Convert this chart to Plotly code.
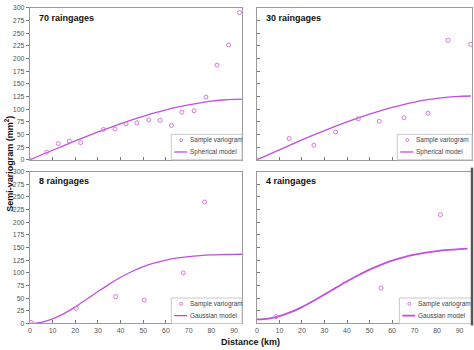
import plotly.graph_objects as go

# ---- data ----
titles = ["70 raingages", "30 raingages", "8 raingages", "4 raingages"]
model_names = ["Spherical model", "Spherical model", "Gaussian model", "Gaussian model"]
sample_name = "Sample variogram"

# sample variograms
d70 = [0, 7.4, 12.5, 17.4, 22.4, 32.4, 37.5, 42.4, 47.2, 52.4, 57.4, 62.4, 67, 72.4, 77.6, 82.5, 87.6, 92.4]
g70 = [0, 15, 32, 37, 34, 60, 61, 71, 73, 79, 78, 68, 94, 97, 124, 187, 227, 291]
d30 = [0, 14.3, 25.3, 34.9, 45, 54.3, 65.3, 76, 84.9, 94.9]
g30 = [0, 42, 29, 55, 81, 76, 83, 92, 236, 228]
d8 = [0.5, 20.4, 37.8, 50.4, 67.6, 77]
g8 = [2, 30, 53, 46, 100, 240]
d4 = [8.4, 55.1, 81.5]
g4 = [13.5, 70, 215]

# fitted model curves
mh = [0, 5, 10, 15, 20, 25, 30, 35, 40, 45, 50, 55, 60, 65, 70, 75, 80, 85, 90, 93.5]
m70 = [0, 9.5, 18.9, 28.2, 37.3, 46.3, 55.0, 63.3, 71.3, 78.9, 86.0, 92.6, 98.6, 103.9, 108.6, 112.6, 115.8, 118.1, 119.5, 120]
mh30 = [0, 5, 10, 15, 20, 25, 30, 35, 40, 45, 50, 55, 60, 65, 70, 75, 80, 85, 90, 95]
m30 = [0, 9.9, 19.8, 29.6, 39.2, 48.6, 57.7, 66.5, 74.9, 82.8, 90.3, 97.2, 103.5, 109.1, 114.1, 118.2, 121.5, 124.0, 125.5, 126]
m8 = [0, 2.3, 9.1, 19.5, 32.8, 47.7, 63.0, 77.8, 91.2, 102.7, 112.3, 119.7, 125.3, 129.4, 132.2, 134.1, 135.3, 136.0, 136.5, 136.7]
mh4 = [0, 5, 10, 15, 20, 25, 30, 35, 40, 45, 50, 55, 60, 65, 70, 75, 80, 85, 90, 93.5]
m4 = [8, 9.7, 14.5, 22.3, 32.4, 44.3, 57.1, 70.3, 83.3, 95.4, 106.4, 115.9, 124.0, 130.7, 135.9, 140.0, 143.1, 145.3, 146.9, 147.7]

y_ticks = list(range(0, 301, 25))
x_ticks = list(range(0, 91, 10))

W, H = 474, 350
LINE = "#c04fe0"
MARK = "#d777d7"
FONT = "Liberation Sans, Arial, sans-serif"
GRID = "#9a9a9a"

# panel pixel boxes: (left, right, top, bottom)
boxes = [(28, 241, 4, 159), (256, 472, 4, 159), (28, 241, 171, 326), (256, 472, 171, 326)]
xmax = [93.5, 95.5, 93.5, 95.5]
samples = [(d70, g70), (d30, g30), (d8, g8), (d4, g4)]
models = [(mh, m70), (mh30, m30), (mh, m8), (mh4, m4)]
# legend box left edge (px) per panel
leg_left = [170, 397, 170, 399]
line_w = [1.3, 1.3, 1.3, 1.8]


def px(x):
    return x / W


def py(y):
    return (H - y) / H


fig = go.Figure()
layout = dict(width=W, height=H, margin=dict(l=0, r=0, t=0, b=0),
              paper_bgcolor="white", plot_bgcolor="white",
              font=dict(family=FONT, size=7, color="#555"), showlegend=False)
annotations = []
shapes = []
for i in range(4):
    l, r, t, b = boxes[i]
    xa = "xaxis" if i == 0 else f"xaxis{i+1}"
    ya = "yaxis" if i == 0 else f"yaxis{i+1}"
    xr = "x" if i == 0 else f"x{i+1}"
    yr = "y" if i == 0 else f"y{i+1}"
    left_col = i in (0, 2)
    bottom_row = i in (2, 3)
    layout[xa] = dict(domain=[l / W, r / W], range=[0, xmax[i]], anchor=yr,
                      showgrid=False, zeroline=False, showline=True, mirror=True,
                      linecolor=GRID, linewidth=1, ticks="inside", ticklen=3,
                      tickcolor="#777", tickvals=x_ticks, showticklabels=bottom_row,
                      tickfont=dict(size=7, color="#555"))
    layout[ya] = dict(domain=[(H - b) / H, (H - t) / H], range=[0, 300], anchor=xr,
                      showgrid=False, zeroline=False, showline=True, mirror=True,
                      linecolor=GRID, linewidth=1,
                      ticks="outside" if left_col else "inside", ticklen=3,
                      tickcolor="#777", tickvals=y_ticks, showticklabels=left_col,
                      tickfont=dict(size=7, color="#555"))
    sx, sy = samples[i]
    mx, my = models[i]
    fig.add_trace(go.Scatter(x=mx, y=my, mode="lines", name=model_names[i], line_shape="spline",
                             line=dict(color=LINE, width=line_w[i]),
                             xaxis=xr, yaxis=yr))
    fig.add_trace(go.Scatter(x=sx, y=sy, mode="markers", name=sample_name,
                             marker=dict(symbol="circle-open", size=4, color=MARK, line=dict(width=1)),
                             xaxis=xr, yaxis=yr))
    annotations.append(dict(text="<b>" + titles[i] + "</b>", x=px(l + 7), y=py(t + 10),
                            xref="paper", yref="paper", xanchor="left", yanchor="middle",
                            showarrow=False, font=dict(size=9, color="#111", family=FONT)))
    # compact legend box
    L = leg_left[i]
    top = b - 26
    shapes.append(dict(type="rect", xref="paper", yref="paper", layer="above",
                       x0=px(L), x1=px(r), y0=py(b), y1=py(top),
                       line=dict(color="#c8c8c8", width=1), fillcolor="white"))
    shapes.append(dict(type="circle", xref="paper", yref="paper", layer="above",
                       x0=px(L + 8.5), x1=px(L + 11.5), y0=py(top + 7.5), y1=py(top + 4.5),
                       line=dict(color=MARK, width=1)))
    shapes.append(dict(type="line", xref="paper", yref="paper", layer="above",
                       x0=px(L + 3), x1=px(L + 16), y0=py(top + 18), y1=py(top + 18),
                       line=dict(color=LINE, width=line_w[i])))
    annotations.append(dict(text=sample_name, x=px(L + 16.5), y=py(top + 6),
                            xref="paper", yref="paper", xanchor="left", yanchor="middle",
                            showarrow=False, font=dict(size=6.5, color="#444", family=FONT)))
    annotations.append(dict(text=model_names[i], x=px(L + 16.5), y=py(top + 18),
                            xref="paper", yref="paper", xanchor="left", yanchor="middle",
                            showarrow=False, font=dict(size=6.5, color="#444", family=FONT)))

annotations.append(dict(text="<b>Semi-variogram (mm<sup>2</sup>)</b>", x=px(7), y=py(163),
                        xref="paper", yref="paper", textangle=-90, showarrow=False,
                        xanchor="center", yanchor="middle",
                        font=dict(size=9, color="#111", family=FONT)))
annotations.append(dict(text="<b>Distance (km)</b>", x=px(250), y=py(345),
                        xref="paper", yref="paper", showarrow=False,
                        xanchor="center", yanchor="middle",
                        font=dict(size=9, color="#111", family=FONT)))
shapes.append(dict(type="line", xref="paper", yref="paper",
                   x0=px(472), x1=px(472), y0=py(328), y1=py(167),
                   line=dict(color="#555", width=2.5)))
layout["annotations"] = annotations
layout["shapes"] = shapes
fig.update_layout(**layout)
fig.write_html("out.html")
